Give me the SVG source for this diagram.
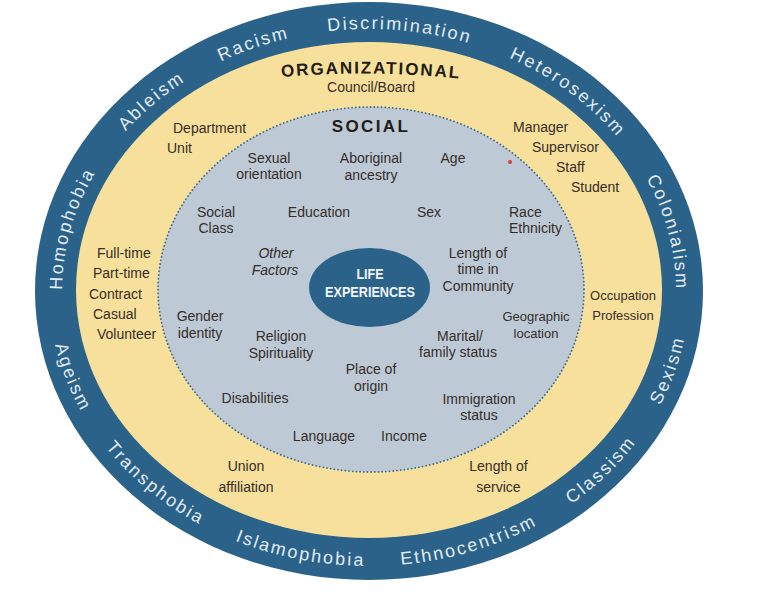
<svg xmlns="http://www.w3.org/2000/svg" width="768" height="593" viewBox="0 0 768 593">
<style>
.ring{font-family:"Liberation Sans",Arial,sans-serif;font-size:18px;letter-spacing:2.2px;fill:#e3ebf1}
.t{font-family:"Liberation Sans",Arial,sans-serif;font-size:14px;fill:#362d28;text-anchor:middle}
.s{text-anchor:start}
.sm{font-size:13px}
.it{font-style:italic}
.hd{font-family:"Liberation Sans",Arial,sans-serif;font-weight:bold;font-size:17px;fill:#221b16;text-anchor:middle}
.life{font-family:"Liberation Sans",Arial,sans-serif;font-weight:bold;font-size:15px;fill:#f1f5f8;text-anchor:middle}
</style>
<defs>
<path id="p1" d="M84.4,389.1 A307,262 0 0 1 163.6,96.3"/>
<path id="p2" d="M65.9,249.6 A307,262 0 0 1 310.9,33.7"/>
<path id="p3" d="M109.2,151.4 A307,262 0 0 1 433.9,34.9"/>
<path id="p4" d="M220.2,61.9 A307,262 0 0 1 570.4,93.3"/>
<path id="p5" d="M405.9,30.9 A307,262 0 0 1 668.0,231.6"/>
<path id="p6" d="M577.6,98.8 A307,262 0 0 1 652.0,392.5"/>
<path id="p7" d="M568.6,505.9 A320,275 0 0 0 672.3,203.3"/>
<path id="p8" d="M448.0,557.5 A320,275 0 0 0 687.4,318.3"/>
<path id="p9" d="M283.5,556.0 A320,275 0 0 0 629.5,450.7"/>
<path id="p10" d="M130.4,474.3 A320,275 0 0 0 487.8,546.3"/>
<path id="p11" d="M54.1,339.7 A320,275 0 0 0 314.5,562.0"/>
<path id="p12" d="M63.1,210.1 A320,275 0 0 0 176.0,510.3"/>
<path id="porg" d="M262,79 Q371,67 480,81"/>
</defs>
<rect width="768" height="593" fill="#ffffff"/>
<g id="outer-ring">
<ellipse cx="369" cy="291" rx="334" ry="289" fill="#2a628a"/>
<text class="ring"><textPath href="#p1" startOffset="50%" text-anchor="middle">Homophobia</textPath></text>
<text class="ring"><textPath href="#p2" startOffset="50%" text-anchor="middle">Ableism</textPath></text>
<text class="ring"><textPath href="#p3" startOffset="50%" text-anchor="middle">Racism</textPath></text>
<text class="ring"><textPath href="#p4" startOffset="50%" text-anchor="middle">Discrimination</textPath></text>
<text class="ring"><textPath href="#p5" startOffset="50%" text-anchor="middle">Heterosexism</textPath></text>
<text class="ring"><textPath href="#p6" startOffset="50%" text-anchor="middle">Colonialism</textPath></text>
<text class="ring"><textPath href="#p7" startOffset="50%" text-anchor="middle">Sexism</textPath></text>
<text class="ring"><textPath href="#p8" startOffset="50%" text-anchor="middle">Classism</textPath></text>
<text class="ring"><textPath href="#p9" startOffset="50%" text-anchor="middle">Ethnocentrism</textPath></text>
<text class="ring"><textPath href="#p10" startOffset="50%" text-anchor="middle">Islamophobia</textPath></text>
<text class="ring"><textPath href="#p11" startOffset="50%" text-anchor="middle">Transphobia</textPath></text>
<text class="ring"><textPath href="#p12" startOffset="50%" text-anchor="middle">Ageism</textPath></text>
</g>
<g id="organizational">
<ellipse cx="369" cy="290" rx="293" ry="248" fill="#f7e09b"/>
<text class="hd" style="letter-spacing:1.9px"><textPath href="#porg" startOffset="50%">ORGANIZATIONAL</textPath></text>
<text class="t" x="371" y="92">Council/Board</text>
<text class="t s" x="173" y="133">Department</text>
<text class="t s" x="167" y="153">Unit</text>
<text class="t s" x="513" y="132">Manager</text>
<text class="t s" x="532" y="152">Supervisor</text>
<text class="t s" x="556" y="172">Staff</text>
<text class="t s" x="571" y="192">Student</text>
<text class="t s" x="97" y="258">Full-time</text>
<text class="t s" x="93" y="278">Part-time</text>
<text class="t s" x="89" y="299">Contract</text>
<text class="t s" x="93" y="319">Casual</text>
<text class="t s" x="97" y="339">Volunteer</text>
<text class="t sm" x="623" y="300">Occupation</text>
<text class="t sm" x="623" y="320">Profession</text>
<text class="t" x="246" y="471">Union</text>
<text class="t" x="246" y="492">affiliation</text>
<text class="t" x="498.5" y="471">Length of</text>
<text class="t" x="498.5" y="492">service</text>
</g>
<g id="social">
<ellipse cx="371" cy="289.5" rx="213" ry="182.5" fill="#bdcad5" stroke="#3a6a94" stroke-width="1.8" stroke-dasharray="0.1 3.6" stroke-linecap="round"/>
<text class="hd" x="371" y="132" style="letter-spacing:2.4px">SOCIAL</text>
<text class="t" x="269" y="163">Sexual</text>
<text class="t" x="269" y="179">orientation</text>
<text class="t" x="371" y="163">Aboriginal</text>
<text class="t" x="371" y="180">ancestry</text>
<text class="t" x="453" y="163">Age</text>
<text class="t" x="216" y="217">Social</text>
<text class="t" x="216" y="233">Class</text>
<text class="t" x="319" y="217">Education</text>
<text class="t" x="429" y="217">Sex</text>
<text class="t s" x="509" y="217">Race</text>
<text class="t s" x="509" y="233">Ethnicity</text>
<text class="t it" x="276" y="258">Other</text>
<text class="t it" x="275" y="275">Factors</text>
<text class="t" x="478" y="258">Length of</text>
<text class="t" x="478" y="274">time in</text>
<text class="t" x="478" y="291">Community</text>
<text class="t" x="200" y="321">Gender</text>
<text class="t" x="200" y="338">identity</text>
<text class="t" x="281" y="341">Religion</text>
<text class="t" x="281" y="358">Spirituality</text>
<text class="t" x="460" y="341">Marital/</text>
<text class="t" x="458" y="357">family status</text>
<text class="t sm" x="536" y="321">Geographic</text>
<text class="t sm" x="536" y="338">location</text>
<text class="t" x="371" y="374">Place of</text>
<text class="t" x="371" y="391">origin</text>
<text class="t" x="255" y="403">Disabilities</text>
<text class="t" x="479" y="404">Immigration</text>
<text class="t" x="479" y="420">status</text>
<text class="t" x="324" y="441">Language</text>
<text class="t" x="404" y="441">Income</text>
<circle cx="510" cy="162" r="2" fill="#e03a3a"/>
</g>
<g id="life-experiences">
<ellipse cx="369.5" cy="287.5" rx="60.5" ry="39.5" fill="#2a628a"/>
<text class="life" x="370" y="279" textLength="27" lengthAdjust="spacingAndGlyphs">LIFE</text>
<text class="life" x="370" y="297" textLength="90" lengthAdjust="spacingAndGlyphs">EXPERIENCES</text>
</g>
<g id="connectors"></g>
</svg>
